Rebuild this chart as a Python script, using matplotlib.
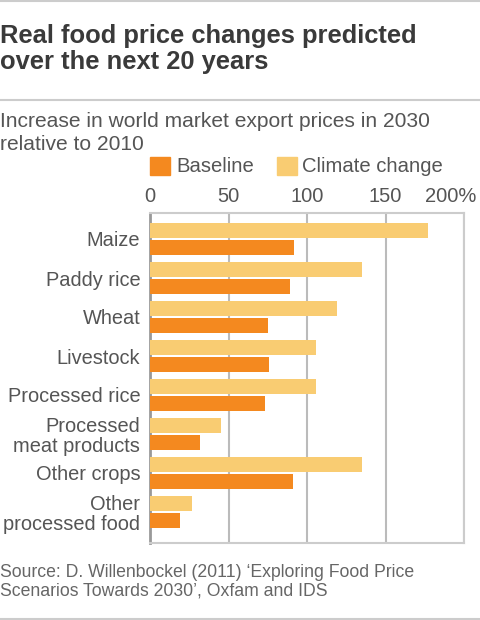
import numpy as np
import matplotlib.pyplot as plt
from matplotlib.lines import Line2D
from matplotlib.patches import Rectangle

plt.rcParams['font.family'] = ['Liberation Sans', 'DejaVu Sans']

categories = ["Maize", "Paddy rice", "Wheat", "Livestock", "Processed rice",
              "Processed\nmeat products", "Other crops", "Other\nprocessed food"]
baseline = [92, 89, 75, 76, 73, 32, 91, 19]
climate = [177, 135, 119, 106, 106, 45, 135, 27]
tick_values = [0, 50, 100, 150, 200]
tick_labels = ["0", "50", "100", "150", "200%"]

ORANGE = "#f4891f"
LIGHT = "#f9cc72"
TEXT = "#555555"

W, H = 480, 620
fig = plt.figure(figsize=(W / 100, H / 100), dpi=100)


def fx(px):
    return px / W


def fy(py):
    return 1 - py / H


# separator lines
for py in (1, 100, 619):
    fig.add_artist(Line2D([0, 1], [fy(py), fy(py)], color="#cccccc", lw=1.5))

fig.text(fx(0), fy(49), "Real food price changes predicted\nover the next 20 years",
         fontsize=18.4, fontweight="bold", color="#3a3a3a", va="center",
         linespacing=1.06)
fig.text(fx(0), fy(133), "Increase in world market export prices in 2030\nrelative to 2010",
         fontsize=15.1, color=TEXT, va="center", linespacing=1.3)
fig.text(fx(0), fy(582), "Source: D. Willenbockel (2011) \u2018Exploring Food Price\n"
         "Scenarios Towards 2030\u2019, Oxfam and IDS",
         fontsize=12.7, color="#666666", va="center", linespacing=1.15)

# legend
fig.add_artist(Rectangle((fx(150), fy(175)), fx(20), 18 / H, color=ORANGE,
                         transform=fig.transFigure))
fig.text(fx(176), fy(166), "Baseline", fontsize=14.6, color=TEXT, va="center")
fig.add_artist(Rectangle((fx(277), fy(175)), fx(20), 18 / H, color=LIGHT,
                         transform=fig.transFigure))
fig.text(fx(302), fy(166), "Climate change", fontsize=14.6, color=TEXT, va="center")

ax = fig.add_axes([fx(150), fy(543), fx(464 - 150), (543 - 213) / H])
y = np.arange(len(categories))
bh = 15 / 39
off = 8.75 / 39
ax.barh(y - off, climate, height=bh, color=LIGHT, zorder=3)
ax.barh(y + off, baseline, height=bh, color=ORANGE, zorder=3)

ax.set_xlim(0, 200)
ax.set_ylim((543 - 239) / 39, (213 - 239) / 39)
ax.set_yticks(y)
ax.set_yticklabels(categories, fontsize=14.4, color=TEXT, ha="right",
                   linespacing=1.08)
ax.tick_params(axis="y", length=0, pad=7)
ax.set_xticks(tick_values)
ax.set_xticklabels([])
ax.tick_params(axis="x", length=0)
for v, lab in zip(tick_values, tick_labels):
    shift = -13 if lab.endswith("%") else 0
    ax.annotate(lab, (v, 1), xycoords=("data", "axes fraction"),
                xytext=(shift, 16), textcoords="offset pixels",
                ha="center", va="center", fontsize=14.5, color=TEXT)
ax.grid(axis="x", color="#bbbbbb", lw=1.5, zorder=0)
for side in ("top", "right", "bottom"):
    ax.spines[side].set_color("#cccccc")
    ax.spines[side].set_linewidth(1.5)
ax.spines["left"].set_color("#999999")
ax.spines["left"].set_linewidth(2)

fig.savefig("out.png", dpi=100)
